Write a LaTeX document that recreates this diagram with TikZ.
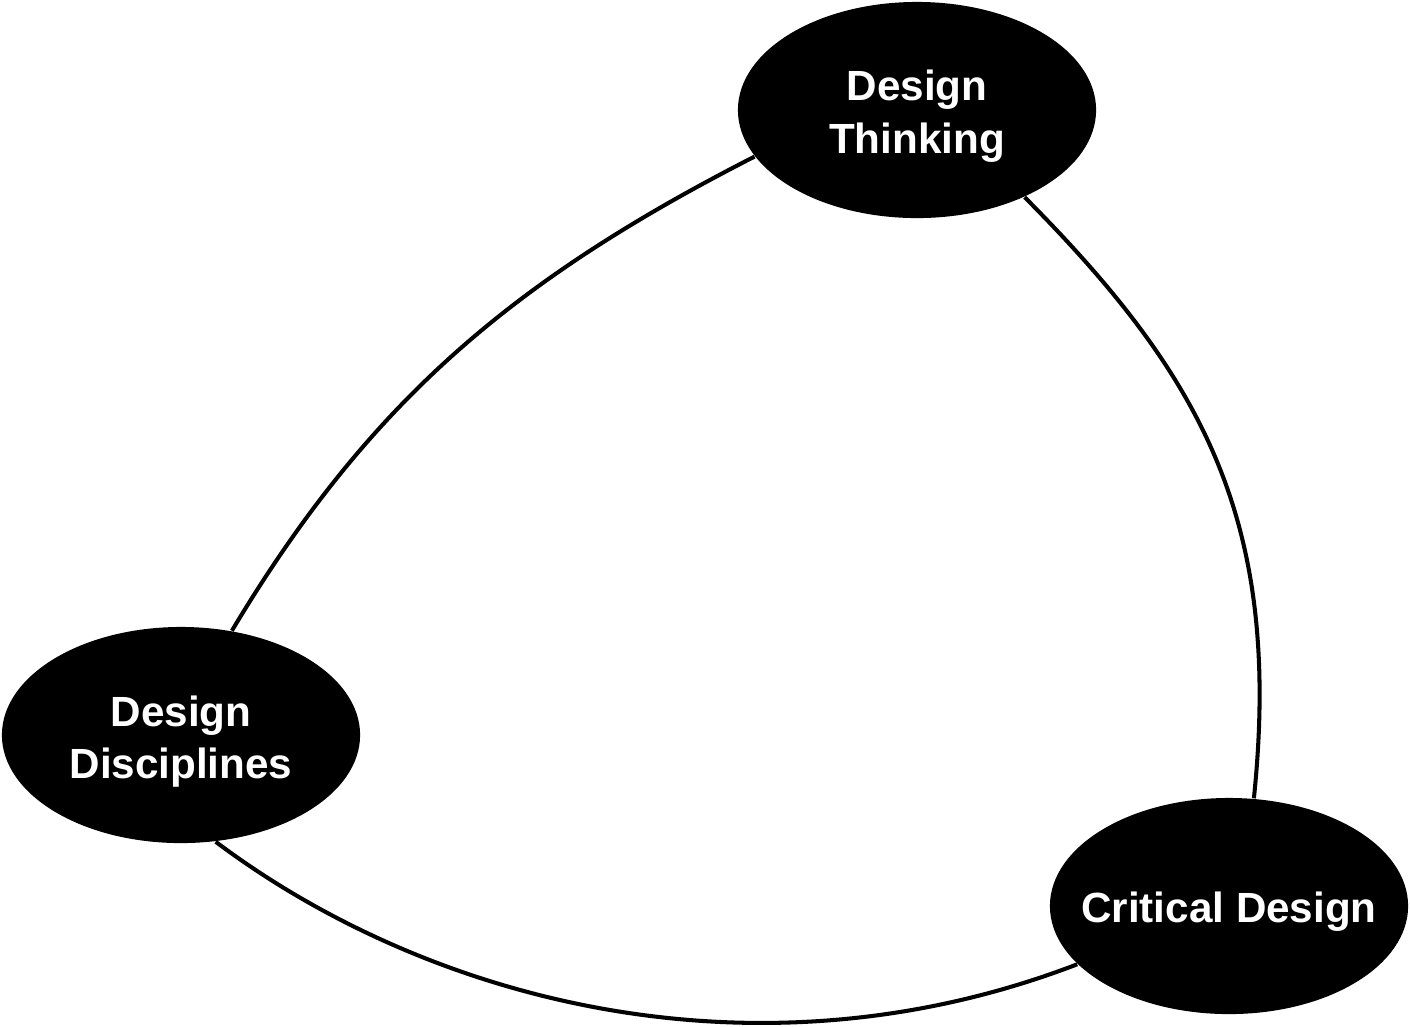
\documentclass[tikz,border=0pt]{standalone}
\usepackage{fontspec}
\setsansfont{Liberation Sans}
\usetikzlibrary{shapes.geometric}

\begin{document}
\begin{tikzpicture}
      [
        x=0.01cm, y=-0.01cm,
        field/.style={ellipse, fill=black, text=white, inner xsep=-6mm,
          inner ysep=0pt, minimum width=3.58cm, minimum height=2.16cm,
          align=center, text height=27.4pt,
          font=\sffamily\bfseries\fontsize{12}{15}\selectfont},
        link/.style={line width=1.15pt}
      ]
      \useasboundingbox (0,0) rectangle (1410,1026);
      % fields
      \node [field] (thinking) at (917,110) {Design\\Thinking};
      \node [field] (disciplines) at (181,735) {Design\\Disciplines};
      \node [field, text height=12pt] (critical) at (1229,906) {Critical Design};
      % links between fields
      \draw [link]
      (thinking.196) .. controls (515,279) and (370,400) .. (disciplines.64);
      \draw [link]
      (thinking.321) .. controls (1200,374) and (1283,518) .. (critical.77);
      \draw [link]
      (disciplines.288) .. controls (425,999) and (752,1089) .. (critical.201);
    \end{tikzpicture}
\end{document}
